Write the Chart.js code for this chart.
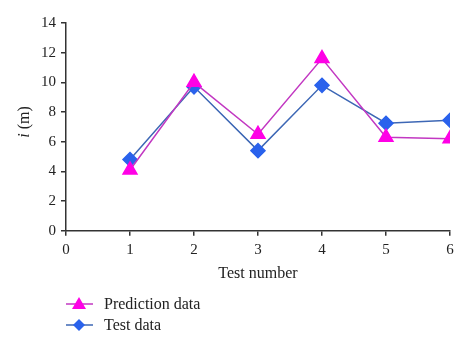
<!DOCTYPE html>
<html>
<head>
<meta charset="utf-8">
<script src="https://cdn.jsdelivr.net/npm/chart.js@4"></script>
<style>
    html, body { margin: 0; padding: 0; background: #fff; }
    #wrap { position: relative; width: 474px; height: 348px; }
    #legend { position: absolute; left: 66px; top: 293px; font-family: "Liberation Serif", serif; font-size: 16px; color: #222; }
    #legend div { display: flex; align-items: center; height: 21px; }
    #legend svg { margin-right: 11px; }
</style>
</head>
<body>
<div id="wrap">
    <canvas id="chart" width="474" height="348"></canvas>
    <div id="legend"></div>
</div>
<script>
const testNumbers = [1, 2, 3, 4, 5, 6];
const predictionData = [4.1, 10.0, 6.5, 11.6, 6.3, 6.2];
const testData = [4.8, 9.7, 5.4, 9.8, 7.25, 7.45];
const xTicks = [0, 1, 2, 3, 4, 5, 6];
const yTicks = [0, 2, 4, 6, 8, 10, 12, 14];

const predLine = '#c238c2';
const predPoint = '#ff00e6';
const testLine = '#3d67b5';
const testPoint = '#2a62ec';

// y axis title with italic i
const yTitle = {
    id: 'yTitle',
    afterDraw: (chart) => {
        const ctx = chart.ctx;
        ctx.save();
        ctx.translate(25, 122);
        ctx.rotate(-Math.PI / 2);
        ctx.fillStyle = '#222';
        ctx.textBaseline = 'middle';
        ctx.font = 'italic 16px "Liberation Serif"';
        const w1 = ctx.measureText('i').width;
        ctx.font = '16px "Liberation Serif"';
        const w2 = ctx.measureText(' (m)').width;
        const start = -(w1 + w2) / 2;
        ctx.textAlign = 'left';
        ctx.font = 'italic 16px "Liberation Serif"';
        ctx.fillText('i', start, 0);
        ctx.font = '16px "Liberation Serif"';
        ctx.fillText(' (m)', start + w1, 0);
        ctx.restore();
    }
};

const ctx = document.getElementById('chart');
const myChart = new Chart(ctx, {
    type: 'line',
    data: {
        datasets: [{
            label: 'Prediction data',
            data: testNumbers.map((x, i) => ({ x: x, y: predictionData[i] })),
            borderColor: predLine,
            backgroundColor: predPoint,
            borderWidth: 1.5,
            pointStyle: 'triangle',
            pointRadius: 8,
            pointBorderColor: predPoint,
            pointBackgroundColor: predPoint,
            tension: 0
        }, {
            label: 'Test data',
            data: testNumbers.map((x, i) => ({ x: x, y: testData[i] })),
            borderColor: testLine,
            backgroundColor: testPoint,
            borderWidth: 1.5,
            pointStyle: 'rectRot',
            pointRadius: 7,
            pointBorderColor: testPoint,
            pointBackgroundColor: testPoint,
            tension: 0
        }]
    },
    plugins: [yTitle],
    options: {
        responsive: false,
        animation: false,
        layout: {
            padding: { top: 23, left: 36, right: 24, bottom: 61 }
        },
        plugins: {
            legend: { display: false },
            tooltip: { enabled: false }
        },
        scales: {
            x: {
                type: 'linear',
                min: 0,
                max: 6,
                afterBuildTicks: (axis) => { axis.ticks = xTicks.map(v => ({ value: v })); },
                border: { color: '#333', width: 1.5 },
                grid: { drawOnChartArea: false, drawTicks: true, tickLength: 5, color: '#333', lineWidth: 1.5 },
                ticks: { color: '#222', padding: 5, font: { family: 'Liberation Serif', size: 15 } },
                title: {
                    display: true,
                    text: 'Test number',
                    color: '#222',
                    padding: { top: 0 },
                    font: { family: 'Liberation Serif', size: 16 }
                }
            },
            y: {
                min: 0,
                max: 14,
                afterBuildTicks: (axis) => { axis.ticks = yTicks.map(v => ({ value: v })); },
                border: { color: '#333', width: 1.5 },
                grid: { drawOnChartArea: false, drawTicks: true, tickLength: 5, color: '#333', lineWidth: 1.5 },
                ticks: { color: '#222', padding: 5, font: { family: 'Liberation Serif', size: 15 } }
            }
        }
    }
});

// Legend below the plot
const legendItems = [
    { label: 'Prediction data', line: predLine, fill: predPoint, shape: '<polygon points="13,3 20,15 6,15"/>' },
    { label: 'Test data', line: testLine, fill: testPoint, shape: '<polygon points="13,4 19,10 13,16 7,10"/>' }
];
const legend = document.getElementById('legend');
legendItems.forEach(item => {
    const row = document.createElement('div');
    row.innerHTML = '<svg width="27" height="20"><line x1="0" y1="10" x2="27" y2="10" stroke="' + item.line +
        '" stroke-width="1.5"/><g fill="' + item.fill + '">' + item.shape + '</g></svg><span>' + item.label + '</span>';
    legend.appendChild(row);
});
</script>
</body>
</html>
